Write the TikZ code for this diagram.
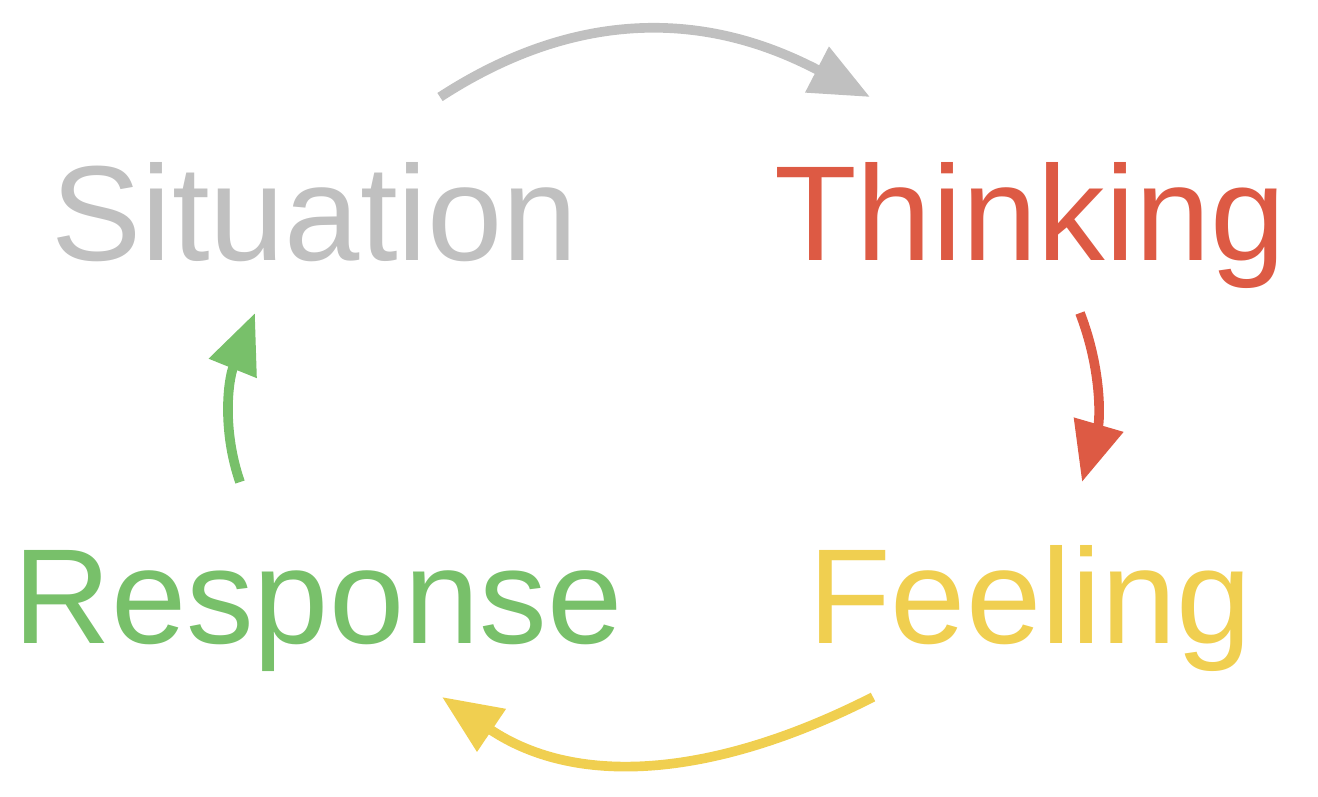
\documentclass[tikz,border=0pt]{standalone}
\usepackage{fontspec}
\setmainfont{Liberation Sans}
\usetikzlibrary{arrows.meta}
\definecolor{sitgray}{HTML}{C0C0C0}
\definecolor{thinkred}{HTML}{DD5A44}
\definecolor{feelyellow}{HTML}{F0CF50}
\definecolor{respgreen}{HTML}{78C06A}
\begin{document}
\begin{tikzpicture}
	[x=0.02cm, y=-0.02cm,
	word/.style ={anchor=base, inner sep=0pt, font=\fontsize{77}{90}\selectfont},
	cycle/.style ={line width=5.5pt, -{Triangle[length=34pt, width=28pt]}}]
	\useasboundingbox (0, 0) rectangle (1318, 796);
	\node[word, text=sitgray] (sit) at (315, 260) {Situation};
	\node[word, text=thinkred] (think) at (1030, 260) {Thinking};
	\node[word, text=feelyellow] (feel) at (1030, 643) {Feeling};
	\node[word, text=respgreen] (resp) at (318, 643) {Response};
	\coordinate (sitout) at (440, 97);
	\coordinate (thinkin) at (870, 97);
	\coordinate (thinkout) at (1080, 313);
	\coordinate (feelin) at (1082, 482);
	\coordinate (feelout) at (873, 697);
	\coordinate (respin) at (442, 697);
	\coordinate (respout) at (240, 482);
	\coordinate (sitin) at (255, 313);
	\draw[cycle, sitgray] (sitout) .. controls (620, -20) and (760, 40) .. (thinkin);
	\draw[cycle, thinkred] (thinkout) .. controls (1102, 370) and (1100, 420) .. (feelin);
	\draw[cycle, feelyellow] (feelout) .. controls (720, 775) and (580, 790) .. (respin);
	\draw[cycle, respgreen] (respout) .. controls (222, 430) and (228, 380) .. (sitin);
\end{tikzpicture}
\end{document}
